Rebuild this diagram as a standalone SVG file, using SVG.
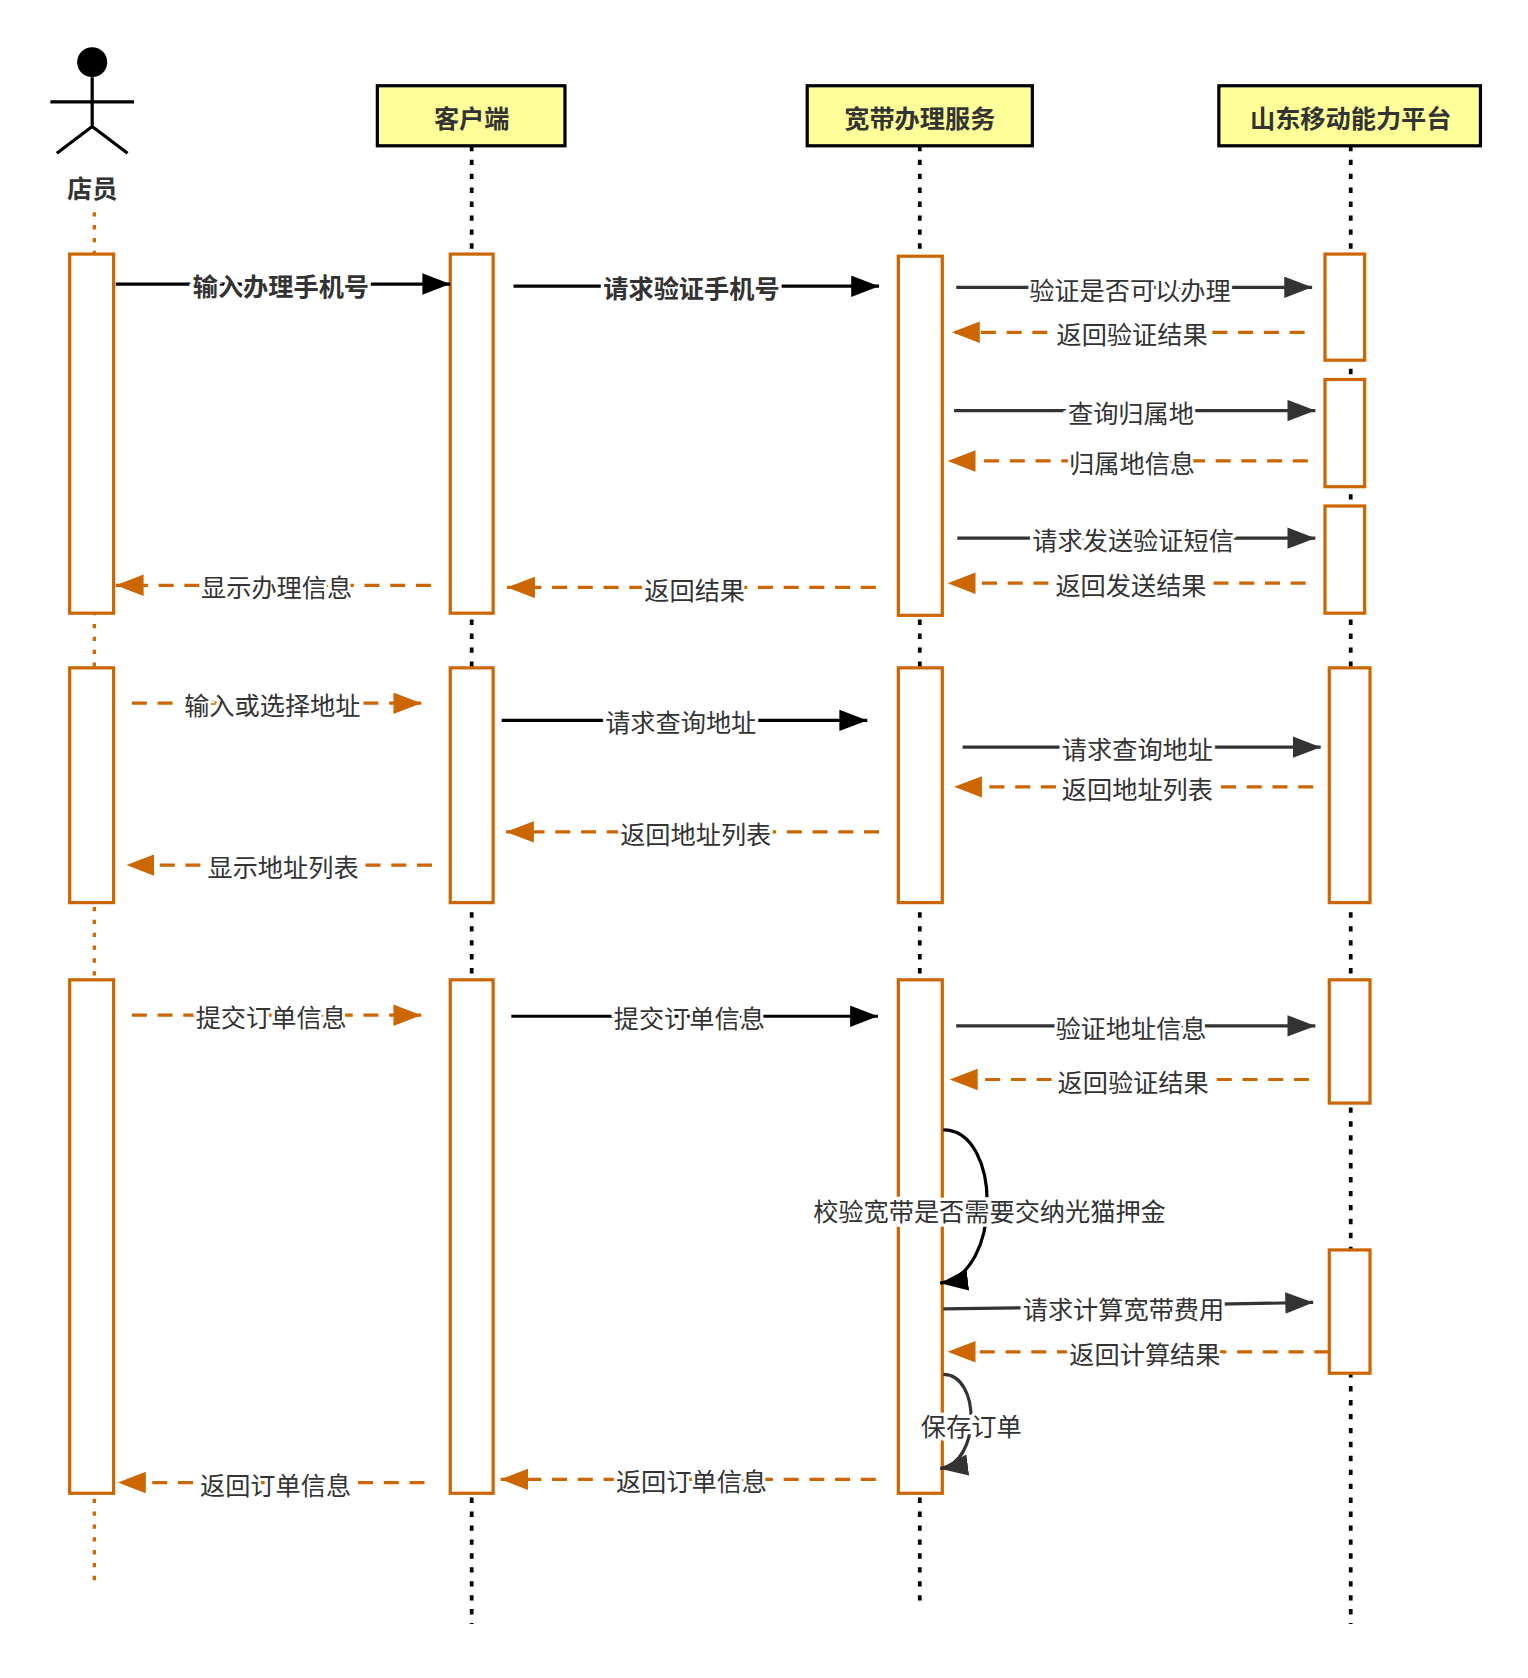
<svg xmlns="http://www.w3.org/2000/svg" width="1528" height="1678" viewBox="0 0 1528 1678">
<style>
text{font-family:"Noto Sans CJK SC","Noto Sans",sans-serif;font-size:23.5px;fill:#333;text-anchor:middle;dominant-baseline:central}
.lbl{stroke:#fff;stroke-width:6px;paint-order:stroke}
.b{font-weight:bold}
.hdr rect{fill:#ffff99;stroke:#000;stroke-width:3}
.act{fill:#fff;stroke:#cc6600;stroke-width:3}
.ll{stroke:#000;stroke-width:3.5;stroke-dasharray:5 8;fill:none}
.sol{stroke:#000;stroke-width:3;fill:none;marker-end:url(#ab)}
.sol2{stroke:#333;stroke-width:3;fill:none;marker-end:url(#ag)}
.ret{stroke:#cc6600;stroke-width:3;stroke-dasharray:14 10;fill:none;marker-end:url(#ao)}
</style>
<defs>
<marker id="ab" markerUnits="userSpaceOnUse" markerWidth="28" markerHeight="22" refX="26" refY="10" orient="auto"><path d="M0,0 L26,10 L0,20z" fill="#000"/></marker>
<marker id="ag" markerUnits="userSpaceOnUse" markerWidth="28" markerHeight="22" refX="26" refY="10" orient="auto"><path d="M0,0 L26,10 L0,20z" fill="#333"/></marker>
<marker id="ao" markerUnits="userSpaceOnUse" markerWidth="28" markerHeight="22" refX="26" refY="10" orient="auto"><path d="M0,0 L26,10 L0,20z" fill="#cc6600"/></marker>
</defs>
<rect width="1528" height="1678" fill="#fff"/>
<g transform="scale(1.072)">
<g id="lifelines">
<line x1="88" y1="198" x2="88" y2="1480" stroke="#cc6600" stroke-width="3" stroke-dasharray="4 8"/>
<line class="ll" x1="440" y1="136" x2="440" y2="1515"/>
<line class="ll" x1="858" y1="136" x2="858" y2="1500"/>
<line class="ll" x1="1260" y1="136" x2="1260" y2="1515"/>
</g>
<g id="actor">
<circle cx="86" cy="58" r="14" fill="#000"/>
<path d="M86,72 V118 M47,95 H125 M53,143 L86,118 L119,143" stroke="#000" stroke-width="3" fill="none"/>
<text class="b" x="86" y="174">店员</text>
</g>
<g id="client" class="hdr"><rect x="352" y="80" width="175" height="56"/><text class="b" x="440" y="109">客户端</text></g>
<g id="service" class="hdr"><rect x="753" y="80" width="210" height="56"/><text class="b" x="858" y="109">宽带办理服务</text></g>
<g id="platform" class="hdr"><rect x="1137" y="80" width="244" height="56"/><text class="b" x="1260" y="109">山东移动能力平台</text></g>
<g id="activations">
<rect class="act" x="65" y="237" width="41" height="335"/>
<rect class="act" x="65" y="623" width="41" height="219"/>
<rect class="act" x="65" y="914" width="41" height="479"/>
<rect class="act" x="420" y="237" width="40" height="335"/>
<rect class="act" x="420" y="623" width="40" height="219"/>
<rect class="act" x="420" y="914" width="40" height="479"/>
<rect class="act" x="838" y="239" width="41" height="335"/>
<rect class="act" x="838" y="623" width="41" height="219"/>
<rect class="act" x="838" y="914" width="41" height="479"/>
<rect class="act" x="1236" y="237" width="37" height="99"/>
<rect class="act" x="1236" y="354" width="37" height="100"/>
<rect class="act" x="1236" y="472" width="37" height="100"/>
<rect class="act" x="1240" y="623" width="38" height="219"/>
<rect class="act" x="1240" y="914" width="38" height="115"/>
<rect class="act" x="1240" y="1166" width="38" height="115"/>
</g>
<g id="connectors">
<line class="sol" x1="108" y1="265" x2="420" y2="265"/><text class="lbl b" x="262" y="266">输入办理手机号</text>
<line class="sol" x1="479" y1="267" x2="820" y2="267"/><text class="lbl b" x="645" y="268">请求验证手机号</text>
<line class="sol2" x1="892" y1="268" x2="1224" y2="268"/><text class="lbl" x="1054" y="270">验证是否可以办理</text>
<line class="ret" x1="1217" y1="310" x2="888" y2="310"/><text class="lbl" x="1056" y="311">返回验证结果</text>
<line class="sol2" x1="890" y1="383" x2="1227" y2="383"/><text class="lbl" x="1055" y="384">查询归属地</text>
<line class="ret" x1="1220" y1="430" x2="884" y2="430"/><text class="lbl" x="1056" y="431">归属地信息</text>
<line class="sol2" x1="893" y1="502" x2="1227" y2="502"/><text class="lbl" x="1057" y="503">请求发送验证短信</text>
<line class="ret" x1="1218" y1="544" x2="884" y2="544"/><text class="lbl" x="1055" y="545">返回发送结果</text>
<line class="ret" x1="402" y1="546" x2="108" y2="546"/><text class="lbl" x="258" y="547">显示办理信息</text>
<line class="ret" x1="817" y1="548" x2="473" y2="548"/><text class="lbl" x="648" y="549">返回结果</text>
<line class="ret" x1="123" y1="656" x2="393" y2="656"/><text class="lbl" x="254" y="657">输入或选择地址</text>
<line class="sol" x1="468" y1="672" x2="809" y2="672"/><text class="lbl" x="635" y="673">请求查询地址</text>
<line class="sol2" x1="898" y1="697" x2="1232" y2="697"/><text class="lbl" x="1061" y="698">请求查询地址</text>
<line class="ret" x1="1225" y1="734" x2="890" y2="734"/><text class="lbl" x="1061" y="735">返回地址列表</text>
<line class="ret" x1="820" y1="776" x2="472" y2="776"/><text class="lbl" x="649" y="777">返回地址列表</text>
<line class="ret" x1="403" y1="807" x2="118" y2="807"/><text class="lbl" x="264" y="808">显示地址列表</text>
<line class="ret" x1="123" y1="947" x2="393" y2="947"/><text class="lbl" x="253" y="948">提交订单信息</text>
<line class="sol" x1="477" y1="948" x2="819" y2="948"/><text class="lbl" x="643" y="949">提交订单信息</text>
<line class="sol2" x1="892" y1="957" x2="1227" y2="957"/><text class="lbl" x="1055" y="958">验证地址信息</text>
<line class="ret" x1="1221" y1="1007" x2="886" y2="1007"/><text class="lbl" x="1057" y="1008">返回验证结果</text>
<path class="sol" d="M880,1054 C935,1054 935,1190 877,1197"/><text class="lbl" x="923" y="1129">校验宽带是否需要交纳光猫押金</text>
<path class="sol2" d="M880,1221 L950,1220 L1225,1215"/><text class="lbl" x="1048" y="1220">请求计算宽带费用</text>
<line class="ret" x1="1240" y1="1261" x2="884" y2="1261"/><text class="lbl" x="1068" y="1262">返回计算结果</text>
<path class="sol2" d="M880,1282 C915,1282 915,1365 877,1370"/><text class="lbl" x="906" y="1329">保存订单</text>
<line class="ret" x1="817" y1="1380" x2="467" y2="1380"/><text class="lbl" x="645" y="1381">返回订单信息</text>
<line class="ret" x1="396" y1="1383" x2="110" y2="1383"/><text class="lbl" x="257" y="1384">返回订单信息</text>
</g>
</g>
</svg>
